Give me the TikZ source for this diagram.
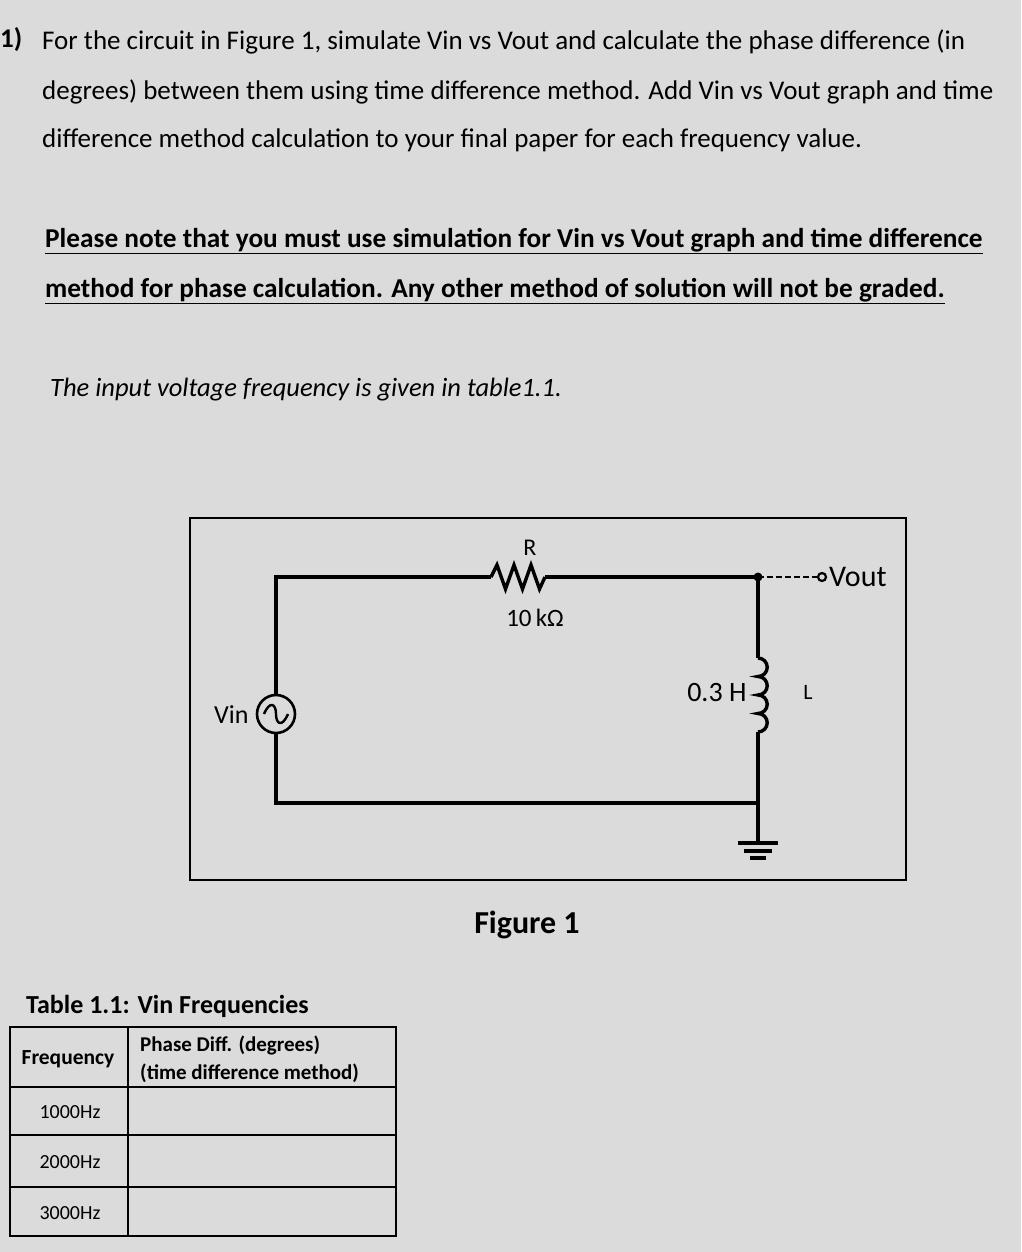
\documentclass[tikz,border=0pt]{standalone}
\usepackage{fontspec}
\setmainfont{Carlito}
\usetikzlibrary{calc}
\begin{document}
\begin{tikzpicture}[x=1pt,y=-1pt,
  txt/.style={anchor=west,inner sep=0,font=\fontsize{27}{32}\selectfont},
  wire/.style={line width=3.4pt},
  cell/.style={font=\fontsize{21.5}{24}\selectfont\bfseries,inner sep=0}]
\fill[gray!28] (0,0) rectangle (1021,1252);
\useasboundingbox (0,0) rectangle (1021,1252);
\node[txt] (n1) at (0,40) {\bfseries 1)};
\node[txt] (l1) at (42,42) {For the circuit in Figure 1, simulate Vin vs Vout and calculate the phase difference (in};
\node[txt] (l2) at (42,92) {degrees) between them using time difference method. Add Vin vs Vout graph and time};
\node[txt] (l3) at (42,140) {difference method calculation to your final paper for each frequency value.};
\node[txt,font=\fontsize{27.3}{32}\selectfont\bfseries] (b1) at (45,241) {\underline{Please note that you must use simulation for Vin vs Vout graph and time difference}};
\node[txt,font=\fontsize{27.3}{32}\selectfont\bfseries] (b2) at (45,291) {\underline{method for phase calculation. Any other method of solution will not be graded.}};
\node[txt,font=\fontsize{26.5}{32}\selectfont\itshape] (it) at (50,390) {The input voltage frequency is given in table1.1.};
% circuit
\draw[line width=2.4pt] (190,518) rectangle (906,880);
\coordinate (tl) at (276,577); \coordinate (bl) at (276,803);
\coordinate (tr) at (758,577); \coordinate (br) at (758,803);
\coordinate (r1) at (491,577); \coordinate (r2) at (545,577);
\coordinate (l1a) at (758,658); \coordinate (l2a) at (758,732);
\coordinate (gnd) at (758,843);
\node[circle,draw,line width=2.6pt,minimum size=38pt,inner sep=0] (src) at (276,714) {};
\draw[line width=2.4pt] ($(src)+(-12,0)$) .. controls ($(src)+(-6,-14)$) and ($(src)+(0,-10)$) .. (src.center) .. controls ($(src)+(0,10)$) and ($(src)+(6,14)$) .. ($(src)+(12,0)$);
\draw[wire] (src.north) -- (tl) -- (r1);
\draw[wire,line join=miter] (r1) -- ++(6,-12) -- ++(8.5,24) -- ++(8.5,-24) -- ++(8.5,24) -- ++(8.5,-24) -- ++(8.5,24) -- (r2);
\draw[wire] (r2) -- (tr) -- (l1a);
\draw[wire] (l1a) arc(-90:90:9.25) arc(-90:90:9.25) arc(-90:90:9.25) arc(-90:90:9.25);
\draw[wire] (l2a) -- (gnd);
\draw[wire] (src.south) -- (bl) -- (br);
\draw[wire] (gnd) ++(-20,0) -- ++(40,0);
\draw[wire] (gnd) ++(-14,8) -- ++(28,0);
\draw[wire] (gnd) ++(-8,15) -- ++(16,0);
\fill (tr) circle(4.5);
\node[circle,draw,line width=2.2pt,inner sep=0,minimum size=8pt] (vo) at (822,577) {};
\draw[line width=2.4pt,dash pattern=on 6pt off 3pt] (tr) -- (vo);
\node[anchor=west,inner sep=0,font=\fontsize{30}{34}\selectfont] (vol) at (829,577) {Vout};
\node[font=\fontsize{24}{28}\selectfont] (rl) at (530,548) {R};
\node[font=\fontsize{25}{29}\selectfont] (rv) at (535,618) {10\,kΩ};
\node[font=\fontsize{28}{32}\selectfont,anchor=east] (lv) at (750,693) {0.3 H};
\node[font=\fontsize{22}{26}\selectfont] (ll) at (808,692) {L};
\node[font=\fontsize{26}{30}\selectfont,anchor=east] (vin) at (252,715) {Vin};
\node[font=\fontsize{32}{36}\selectfont\bfseries] (fig) at (527,925) {Figure 1};
% table
\node[font=\fontsize{26}{30}\selectfont\bfseries,anchor=west,inner sep=0] (tt) at (26,1006) {Table 1.1: Vin Frequencies};
\draw[line width=1.6pt] (10,1027) rectangle (396,1236);
\foreach \y in {1087,1135,1187} \draw[line width=1.6pt] (10,\y) -- (396,\y);
\draw[line width=1.6pt] (128,1027) -- (128,1236);
\node[cell] (h1) at (68,1059) {Frequency};
\node[cell,anchor=west,align=left,font=\fontsize{21}{28}\selectfont\bfseries] (h2) at (140,1059) {Phase Diff. (degrees)\\(time difference method)};
\node[cell,font=\fontsize{20}{24}\selectfont] (f1) at (70,1112) {1000Hz};
\node[cell,font=\fontsize{20}{24}\selectfont] (f2) at (70,1162) {2000Hz};
\node[cell,font=\fontsize{20}{24}\selectfont] (f3) at (70,1213) {3000Hz};
\end{tikzpicture}
\end{document}
